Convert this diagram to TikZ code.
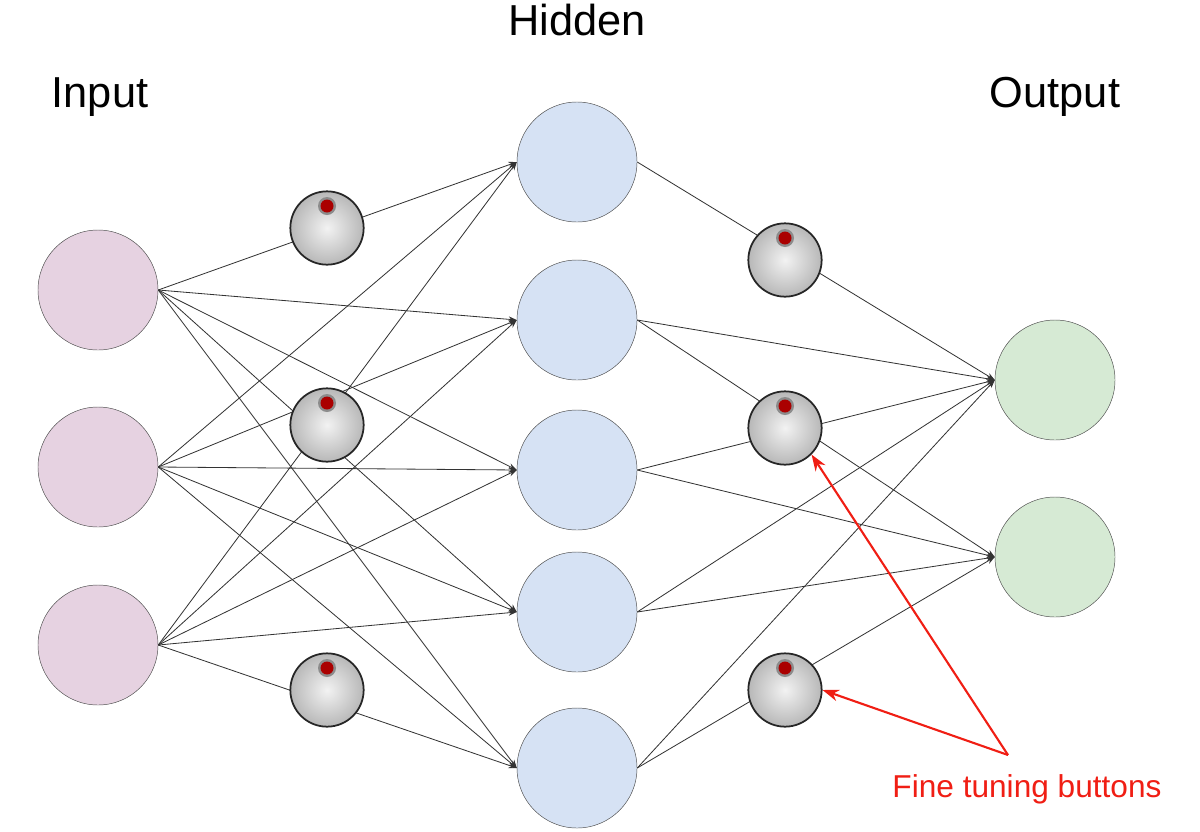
\documentclass[tikz,border=0pt]{standalone}
\usepackage{fontspec}
\setmainfont{Liberation Sans}
\usetikzlibrary{arrows.meta,calc}
\definecolor{cin}{RGB}{230,210,225}
\definecolor{chid}{RGB}{214,226,244}
\definecolor{cout}{RGB}{214,234,212}
\definecolor{cred}{RGB}{240,30,20}
\definecolor{cdot}{RGB}{170,0,0}
\begin{document}
\begin{tikzpicture}[x=0.03cm,y=-0.03cm,
  inp/.style={circle,draw=black!70,fill=cin,minimum size=3.6cm,inner sep=0},
  hid/.style={circle,draw=black!70,fill=chid,minimum size=3.6cm,inner sep=0},
  outn/.style={circle,draw=black!70,fill=cout,minimum size=3.6cm,inner sep=0},
  edge/.style={draw=black!80,line width=0.7pt,-{Stealth[length=7pt,width=5pt]}},
  lab/.style={font=\fontsize{37}{42}\selectfont},
  redarr/.style={draw=cred,line width=1.8pt,-{Stealth[length=14pt,width=10pt]}}]
\useasboundingbox (0,0) rectangle (1200,831);
\newcommand{\knob}[2]{%
  \node[circle,minimum size=2.2cm,inner sep=0,draw=black!85,line width=1.5pt,inner color=black!5,outer color=black!28] (#1) at #2 {};
  \fill[black!45] ($(#1)+(0,-22)$) circle (9);
  \fill[cdot] ($(#1)+(0,-22)$) circle (6.5);
}
\node[inp] (i1) at (98,290) {};
\node[inp] (i2) at (98,467) {};
\node[inp] (i3) at (98,645) {};
\foreach \n/\y in {1/162,2/320,3/470,4/612,5/768} \node[hid] (h\n) at (577,\y) {};
\node[outn] (o1) at (1055,380) {};
\node[outn] (o2) at (1055,557) {};
\foreach \i in {1,2,3} \foreach \h in {1,...,5} \draw[edge] (i\i.east) -- (h\h.west);
\draw[edge] (h1.east) -- (o1.west);
\foreach \h in {2,...,5} \foreach \o in {1,2} \draw[edge] (h\h.east) -- (o\o.west);
\knob{k1}{(327,228)}
\knob{k2}{(327,425)}
\knob{k3}{(327,690)}
\knob{k4}{(785,260)}
\knob{k5}{(785,428)}
\knob{k6}{(785,690)}
\node[lab] (tin) at (100,97) {Input};
\node[lab] (thid) at (577,20) {Hidden};
\node[lab] (tout) at (1055,97) {Output};
\node[font=\fontsize{27}{31}\selectfont,text=cred] (ft) at (1027,789) {Fine tuning buttons};
\coordinate (fa) at (1008,755);
\draw[redarr] (fa) -- (k5.south east);
\draw[redarr] (fa) -- (k6.east);
\end{tikzpicture}
\end{document}
